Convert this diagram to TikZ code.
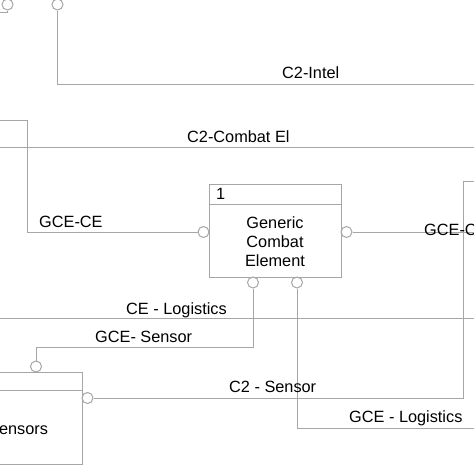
\documentclass[tikz,border=0pt]{standalone}
\usepackage{fontspec}
\setmainfont{Liberation Sans}
\begin{document}
\begin{tikzpicture}[x=1pt,y=-1pt,
  wire/.style={draw=gray!70,line width=1pt},
  iface/.style={circle,draw=gray!70,fill=white,line width=1pt,minimum size=11pt,inner sep=0pt},
  elem/.style={draw=gray!70,line width=1pt,fill=white,inner sep=0pt},
  lbl/.style={inner sep=0pt,anchor=base west,font=\fontsize{16.3}{19}\selectfont}]
\useasboundingbox (0,0) rectangle (474,474);
\clip (0,0) rectangle (474,474);
% elements
\node[elem,minimum width=132pt,minimum height=93pt] (gce) at (275,230.5) {};
\node[elem,minimum width=142pt,minimum height=92pt] (sens) at (11,418) {};
\draw[wire] ([yshift=-21pt]gce.north west) -- ([yshift=-21pt]gce.north east);
\draw[wire] ([yshift=-19pt]sens.north west) -- ([yshift=-19pt]sens.north east);
% interface circles
\node[iface] (gL) at (203.5,232) {};
\node[iface] (gR) at (346.5,232) {};
\node[iface] (gB1) at (253,282.5) {};
\node[iface] (gB2) at (297,282.5) {};
\node[iface] (sT) at (36,366.5) {};
\node[iface] (sR) at (87.5,398) {};
\node[iface] (t1) at (7.5,4.5) {};
\node[iface] (t2) at (57.5,4.5) {};
% free ends
\coordinate (eIntel) at (474,84);
\coordinate (hookW) at (0,12);
\coordinate (ceTop) at (27,120);
\coordinate (wCE) at (0,120);
\coordinate (wCombat) at (0,147);
\coordinate (eCombat) at (474,147);
\coordinate (eGC2) at (474,232);
\coordinate (c2sTop) at (463.5,181);
\coordinate (eC2S) at (474,181);
\coordinate (wLog) at (0,318);
\coordinate (eLog) at (474,318);
\coordinate (gsCorner) at (36,347.5);
\coordinate (eGLog) at (474,428);
% connectors
\draw[wire] (t2.south) |- (eIntel);
\draw[wire] (t1.south) |- (hookW);
\draw[wire] (gL.west) -| (ceTop) -- (wCE);
\draw[wire] (wCombat) -- (eCombat);
\draw[wire] (gR.east) -- (eGC2);
\draw[wire] (sR.east) -| (c2sTop) -- (eC2S);
\draw[wire] (wLog) -- (eLog);
\draw[wire] (gB1.south) |- (gsCorner) -- (sT.north);
\draw[wire] (gB2.south) |- (eGLog);
% labels
\node[lbl] (lIntel) at (282,78.5) {C2-Intel};
\node[lbl] (lCombat) at (187,142) {C2-Combat El};
\node[lbl] (lGCECE) at (39,227) {GCE-CE};
\node[lbl] (lGC2) at (424,235) {GCE-C2};
\node[lbl] (lCELog) at (126,314) {CE - Logistics};
\node[lbl] (lGSens) at (95,342.5) {GCE- Sensor};
\node[lbl] (lC2S) at (229,392.5) {C2 - Sensor};
\node[lbl] (lGLog) at (349,422) {GCE - Logistics};
\node[lbl] (one) at (216,199) {1};
\node[lbl] (sensTxt) at (-12,434) {Sensors};
\node[inner sep=0pt,align=center,font=\fontsize{16.3}{19}\selectfont] (gceTxt) at (275,241.2) {Generic\\Combat\\Element};
\end{tikzpicture}
\end{document}
